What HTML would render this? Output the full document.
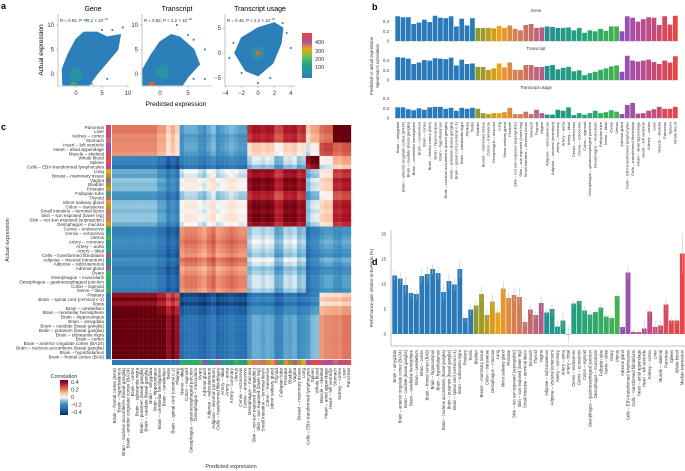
<!DOCTYPE html>
<html><head><meta charset="utf-8">
<style>
html,body{margin:0;padding:0;background:#fff;}
svg{display:block;font-family:"Liberation Sans",Arial,sans-serif;}
</style></head>
<body>
<svg id="fig" width="685" height="471" viewBox="0 0 685 471" xmlns="http://www.w3.org/2000/svg">
<text x="1" y="9" font-size="9" font-weight="bold">a</text>
<text x="372" y="10" font-size="9" font-weight="bold">b</text>
<text x="1" y="130" font-size="9" font-weight="bold">c</text>
<text x="372" y="265" font-size="9" font-weight="bold">d</text>
<g id="pa"></g>
<g id="pb"></g>
<g id="pc"></g>
<g id="pd"></g>
</svg>
<script>
// ---------- data ----------
const tissues = ["Brain – amygdala","Brain – anterior cingulate cortex (BA24)","Brain – caudate (basal ganglia)","Brain – cerebellar hemisphere","Brain – cerebellum","Brain – cortex","Brain – frontal cortex (BA9)","Brain – hippocampus","Brain – hypothalamus","Brain – nucleus accumbens (basal ganglia)","Brain – putamen (basal ganglia)","Brain – spinal cord (cervical c-1)","Brain – substantia nigra","Pituitary","Testis","Bladder","Breast – mammary tissue","Colon – transverse","Oesophagus – mucosa","Lung","Minor salivary gland","Prostate","Skin – not sun exposed (suprapubic)","Skin – sun exposed (lower leg)","Small intestine – terminal ileum","Stomach","Thyroid","Vagina","Adipose – subcutaneous","Adipose – visceral (omentum)","Artery – coronary","Artery – aorta","Artery – tibial","Cervix – endocervix","Cervix – ectocervix","Colon – sigmoid","Oesophagus – gastroesophageal junction","Oesophagus – muscularis","Fallopian tube","Nerve – tibial","Ovary","Uterus","Adrenal gland","Cells – EBV-transformed lymphocytes","Cells – transformed fibroblasts","Heart – atrial appendage","Heart – left ventricle","Kidney – cortex","Liver","Muscle – skeletal","Pancreas","Spleen","Whole blood"];
const tissueColors = ["#2a7ab9","#2a7ab9","#2a7ab9","#2a7ab9","#2a7ab9","#2a7ab9","#2a7ab9","#2a7ab9","#2a7ab9","#2a7ab9","#2a7ab9","#2a7ab9","#2a7ab9","#2a7ab9","#2a7ab9","#8e9a2a","#a09b28","#b89c22","#d39c1a","#eaa21a","#e8952a","#dc8a40","#d58050","#cf7a58","#c97462","#c46c6c","#bd6478","#b65c88","#23918f","#23948c","#229789","#229a86","#239c82","#249f7e","#26a27a","#28a575","#2ba770","#2fa96a","#33ab63","#38ad5c","#3eaf55","#45b04e","#8d4fbf","#9b4fae","#a54fa4","#ae4e9a","#b74d8f","#bf4c84","#c74b78","#d04a6c","#d84960","#df4853","#e64646"];
const geneCorr = [.51,.49,.49,.35,.38,.44,.39,.52,.48,.47,.51,.30,.46,.32,.47,.27,.27,.27,.26,.31,.27,.32,.25,.22,.33,.35,.27,.28,.30,.29,.27,.27,.28,.22,.27,.17,.22,.20,.25,.21,.30,.30,.20,.51,.48,.40,.45,.49,.48,.33,.51,.34,.52];
const transcriptCorr = [.47,.46,.44,.33,.36,.41,.40,.45,.44,.43,.46,.30,.42,.33,.34,.27,.27,.21,.24,.34,.26,.36,.21,.21,.31,.31,.27,.27,.29,.31,.22,.25,.27,.18,.20,.10,.14,.17,.21,.24,.28,.30,.17,.50,.40,.38,.40,.42,.37,.33,.40,.36,.49];
const usageCorr = [.22,.22,.18,.16,.20,.17,.22,.23,.23,.19,.21,.15,.21,.19,.21,.19,.10,.08,.10,.10,.12,.21,.08,.08,.13,.08,.17,.10,.07,.07,.17,.15,.22,.06,.10,.07,.10,.15,.10,.12,.16,.13,.08,.27,.31,.09,.10,.15,.18,.23,.19,.19,.23];
const bTicks = [0,0.2,0.4];
const gainLabels = tissues.concat(["Median expression"]);
const gainValues = [11.7,11.1,9.8,8.2,8.0,11.6,12.0,13.0,12.2,8.4,10.6,9.9,13.0,3.2,4.9,5.7,8.0,3.8,6.5,4.3,9.1,7.2,7.8,7.4,2.4,4.9,3.8,6.2,4.3,5.0,1.5,2.7,-0.1,6.1,6.6,4.7,3.9,4.4,5.3,3.5,3.2,7.6,1.4,12.3,0.4,0.4,1.1,4.5,1.4,1.7,5.9,2.7,2.7,16.1];
const gainErr = [1.0,1.2,1.8,1.0,1.0,1.4,1.7,1.1,1.3,1.6,1.6,1.3,1.8,0.8,1.1,1.0,1.5,1.2,1.4,0.9,1.4,1.1,1.5,1.8,0.9,0.9,0.8,1.5,0.7,1.2,1.2,1.7,1.6,0.8,0.7,0.7,0.8,0.6,0.7,0.6,0.6,0.6,0.6,1.4,0.5,0.5,1.5,1.2,1.3,1.0,1.3,0.7,0.7,4.0];
const dTicks = [0,5,10,15,20];
const heatRows = ["Pancreas","Liver","Kidney – cortex","Stomach","Heart – left ventricle","Heart – atrial appendage","Muscle – skeletal","Whole blood","Spleen","Cells – EBV-transformed lymphocytes",
 "Lung","Breast – mammary tissue","Vagina","Bladder","Prostate","Fallopian tube","Thyroid","Minor salivary gland","Colon – transverse","Small intestine – terminal ileum","Skin – sun exposed (lower leg)","Skin – not sun exposed (suprapubic)","Oesophagus – mucosa",
 "Cervix – endocervix","Cervix – ectocervix","Uterus","Artery – coronary","Artery – aorta","Artery – tibial","Cells – transformed fibroblasts","Adipose – visceral (omentum)","Adipose – subcutaneous","Adrenal gland","Ovary","Oesophagus – muscularis","Oesophagus – gastroesophageal junction","Colon – sigmoid","Nerve – tibial",
 "Pituitary","Brain – spinal cord (cervical c-1)","Testis","Brain – cerebellum","Brain – cerebellar hemisphere","Brain – hippocampus","Brain – amygdala","Brain – caudate (basal ganglia)","Brain – putamen (basal ganglia)","Brain – substantia nigra","Brain – cortex","Brain – anterior cingulate cortex (BA24)","Brain – nucleus accumbens (basal ganglia)","Brain – hypothalamus","Brain – frontal cortex (BA9)"];
const heatGroups = [
 3,3,3,3, 4,4,4, 5,5,5,
 2,2,2,2,2, 2,2,2,2,2, 2,2,2,
 1,1,1,1,1, 1,1,1,1,1, 1,1,1,1,1,
 0,0,0,0,0, 0,0,0,0,0, 0,0,0,0,0];
const heatOffsets = [
 .05,.05,.02,.03, 0,0,-.02, .03,.02,-.03,
 0,-.02,.04,.02,.03, -.04,-.05,.03,.04,.02, .04,.04,0,
 -.02,-.02,0,.02,0, -.02,-.04,.03,0,-.05, -.03,0,0,0,-.03,
 -.1,-.05,-.1,-.02,-.02, .03,.03,.03,.03,.03, .03,.03,.03,.03,.03];
const blockCorr = [
 [0.46,-0.28,-0.18,0.14,0.16,-0.14],
 [-0.22,0.22,-0.06,-0.18,-0.12,-0.22],
 [-0.14,0.0,0.36,0.28,0.06,-0.08],
 [0.14,-0.16,0.28,0.40,0.20,0.08],
 [0.16,-0.12,0.06,0.22,0.30,0.0],
 [-0.26,-0.22,-0.08,0.08,0.0,0.40]];
const corrTicks = [0.4,0.2,0,-0.2,-0.4];
const geneHull = [[-2.5,-2.2],[-2.6,1],[-1.5,4],[0,7],[1.5,8.5],[4,8.5],[6,7.5],[8.5,8],[8,5],[6,2.5],[4,0],[2.5,-2.2]];
const transcriptHull = [[-3,-2.2],[-3,1],[-1.5,4],[0,6.5],[2,8],[3.5,7.5],[6,5],[7,2],[5,-0.5],[4,-2.2]];
const usageHull = [[-2.8,0],[-2,3],[0,5],[2,6],[3,5],[2.8,2],[1.8,-2],[0,-4.5],[-1.5,-3.5]];
const geneOut = [[2,11],[5,9],[9,9.5],[7,9],[-2,-2],[3,-2],[6,-1]];
const transcriptOut = [[8,5],[7,2],[6,7],[5,8],[3,10],[8,-1],[6,-1]];
const usageOut = [[-3,2],[-3.5,-1],[3.5,4],[3,6],[4,1],[-2,-4],[1.5,-5],[0,-6]];

// ---------- helpers ----------
const NS="http://www.w3.org/2000/svg";
function mk(parent,tag,attrs,txt){const e=document.createElementNS(NS,tag);for(const k in attrs)e.setAttribute(k,attrs[k]);if(txt!==undefined)e.textContent=txt;parent.appendChild(e);return e;}
function rdbu(v){const st=[[-0.45,[5,48,97]],[-0.3,[33,102,172]],[-0.15,[67,147,195]],[-0.07,[146,197,222]],[0,[247,247,247]],[0.07,[253,219,199]],[0.15,[244,165,130]],[0.25,[214,96,77]],[0.35,[178,24,43]],[0.45,[103,0,13]]];
 v=Math.max(-0.45,Math.min(0.45,v));for(let i=0;i<st.length-1;i++){const a=st[i],b=st[i+1];if(v<=b[0]){const t=(v-a[0])/(b[0]-a[0]);const c=a[1].map((x,j)=>Math.round(x+(b[1][j]-x)*t));return `rgb(${c})`;}}return "rgb(103,0,13)";}
const colorOf={};tissues.forEach((t,i)=>colorOf[t]=tissueColors[i]);

// ---------- panel a ----------
const pa=document.getElementById('pa');
const panels=[
 {title:"Gene",x0:58,x1:128,sx:v=>76+v*5.2,sy:v=>74-v*4.9,xt:[0,5,10],yt:[0,5,10],hull:geneHull,out:geneOut,core:[[-0.5,-2,"#3bb06a"],[0,0,"#2fa88f"]],stat:"R = 0.82, P < 2.2 × 10"},
 {title:"Transcript",x0:142,x1:212,sx:v=>160+v*5.6,sy:v=>74-v*4.9,xt:[0,5],yt:[0,5,10],hull:transcriptHull,out:transcriptOut,core:[[-1.5,-2,"#e8603a"],[0.5,0.5,"#2fa88f"]],stat:"R = 0.82, P < 2.2 × 10"},
 {title:"Transcript usage",x0:225,x1:295,sx:v=>258+v*8.2,sy:v=>53-v*5,xt:[-4,-2,0,2,4],yt:[-5,0,5],hull:usageHull,out:usageOut,core:[[0,0,"#e8603a"],[0,0,"#58b84a"]],stat:"R = 0.46, P < 2.2 × 10"}];
panels.forEach((p,k)=>{
 const g=mk(pa,'g',{});
 
 
 mk(g,'text',{x:(p.x0+p.x1)/2,y:11,'font-size':7,'text-anchor':'middle'},p.title);
 const pts=p.hull.map(d=>p.sx(d[0])+','+p.sy(d[1])).join(' ');
 const hull=mk(g,'polygon',{points:pts,fill:'#2c7fb8',stroke:'#2c7fb8','stroke-width':1.5,'stroke-linejoin':'round'});
 
 p.out.forEach(d=>{const c=mk(g,'rect',{x:p.sx(d[0])-0.9,y:p.sy(d[1])-0.9,width:1.8,height:1.8,fill:'#2c7fb8'});});
 const c0=p.core[1];mk(g,'ellipse',{cx:p.sx(c0[0]),cy:p.sy(c0[1]),rx:7,ry:7,fill:'#2aa198',opacity:0.55});
 const c1=p.core[0];mk(g,'ellipse',{cx:p.sx(c1[0]),cy:p.sy(c1[1]),rx:3,ry:2,fill:c1[2]});
 mk(g,'line',{x1:p.x0,y1:14,x2:p.x0,y2:86,stroke:'#999','stroke-width':0.6});
 mk(g,'line',{x1:p.x0,y1:86,x2:p.x1,y2:86,stroke:'#999','stroke-width':0.6});
 p.xt.forEach(t=>{mk(g,'line',{x1:p.sx(t),y1:86,x2:p.sx(t),y2:88,stroke:'#999','stroke-width':0.5});mk(g,'text',{x:p.sx(t),y:95,'font-size':6,'text-anchor':'middle',fill:'#333'},String(t).replace('-','−'));});
 p.yt.forEach(t=>{mk(g,'line',{x1:p.x0-2,y1:p.sy(t),x2:p.x0,y2:p.sy(t),stroke:'#999','stroke-width':0.5});mk(g,'text',{x:p.x0-4,y:p.sy(t)+2,'font-size':6,'text-anchor':'end',fill:'#333'},String(t).replace('-','−'));});
 const st=mk(g,'text',{x:p.x0+2,y:22,'font-size':4.4,fill:'#333'},p.stat);
 mk(st,'tspan',{dy:-2,'font-size':3},'−16');
});
mk(pa,'text',{x:0,y:0,'font-size':6.5,'text-anchor':'middle',transform:'translate(43,50) rotate(-90)'},'Actual expression');
mk(pa,'text',{x:176,y:106,'font-size':6.5,'text-anchor':'middle'},'Predicted expression');
const cbDefs=mk(pa,'defs',{});const lg=mk(cbDefs,'linearGradient',{id:'vir',x1:0,y1:1,x2:0,y2:0});
[["0","#2c7fb8"],["0.3","#21a68a"],["0.5","#7cc240"],["0.65","#e8a21a"],["0.8","#b0509c"],["1","#e8463c"]].forEach(s=>mk(lg,'stop',{offset:s[0],'stop-color':s[1]}));
const cb=mk(pa,'rect',{x:302,y:33,width:10,height:45,fill:'url(#vir)'});
[[400,42],[300,51],[200,59],[100,67]].forEach(d=>mk(pa,'text',{x:315,y:d[1]+2,'font-size':5.5,fill:'#333'},String(d[0])));

// ---------- panel b ----------
const pb=document.getElementById('pb');
const bx0=395,bw=283/53;
const subs=[{t:"Gene",y0:41,vals:geneCorr,ty:12},{t:"Transcript",y0:80,vals:transcriptCorr,ty:50},{t:"Transcript usage",y0:118,vals:usageCorr,ty:89}];
const bScale=v=>v*48.5;
subs.forEach(s=>{
 mk(pb,'text',{x:bx0+141,y:s.ty,'font-size':4.3,'text-anchor':'middle',fill:'#333'},s.t);
 bTicks.forEach(t=>mk(pb,'text',{x:bx0-6,y:s.y0-bScale(t)+1.5,'font-size':4.3,'text-anchor':'end',fill:'#333'},String(t)));
 s.vals.forEach((v,i)=>{const r=mk(pb,'rect',{x:bx0+i*bw+0.3,y:s.y0-bScale(v),width:bw-0.6,height:bScale(v),fill:tissueColors[i]});
  
  });
 mk(pb,'line',{x1:bx0,y1:s.y0+0.3,x2:bx0+283,y2:s.y0+0.3,stroke:'#bbb','stroke-width':0.4});
});
tissues.forEach((t,i)=>mk(pb,'text',{x:0,y:0,'font-size':4,'text-anchor':'end',fill:'#333',transform:`translate(${bx0+i*bw+bw/2+1.3},122) rotate(-90)`},t));
mk(pb,'text',{x:0,y:0,'font-size':4.3,'text-anchor':'middle',fill:'#333',transform:'translate(373,66) rotate(-90)'},'Predicted vs actual expression');
mk(pb,'text',{x:0,y:0,'font-size':4.3,'text-anchor':'middle',fill:'#333',transform:'translate(379,66) rotate(-90)'},"Spearman's correlation");

// ---------- panel c ----------
const pc=document.getElementById('pc');
const N=heatRows.length;
const hx0=112,hy0=125,cw=239/N,ch=234/N;
for(let r=0;r<N;r++){for(let c=0;c<N;c++){
 const colIdx=N-1-c; // columns are rows reversed
 const v=blockCorr[heatGroups[r]][heatGroups[colIdx]]+heatOffsets[r]+heatOffsets[colIdx];
 const cell=mk(pc,'rect',{x:hx0+c*cw,y:hy0+r*ch,width:cw+0.15,height:ch+0.15,fill:rdbu(v)});
 
 
}}
heatRows.forEach((t,r)=>{
 mk(pc,'rect',{x:106,y:hy0+r*ch,width:5,height:ch+0.15,fill:colorOf[t]});
 mk(pc,'text',{x:104,y:hy0+r*ch+ch-0.6,'font-size':4.6,'text-anchor':'end',fill:'#333'},t);
 const c=N-1-r;
 mk(pc,'rect',{x:hx0+c*cw,y:360,width:cw+0.15,height:5,fill:colorOf[t]});
 mk(pc,'text',{x:0,y:0,'font-size':4.6,'text-anchor':'end',fill:'#333',transform:`translate(${hx0+c*cw+cw/2+1.5},368) rotate(-90)`},t);
});
mk(pc,'text',{x:0,y:0,'font-size':5.5,'text-anchor':'middle',fill:'#333',transform:'translate(9,240) rotate(-90)'},'Actual expression');
mk(pc,'text',{x:231,y:468,'font-size':5.5,'text-anchor':'middle',fill:'#333'},'Predicted expression');
const cd=mk(pc,'defs',{});const lg2=mk(cd,'linearGradient',{id:'rdbu',x1:0,y1:1,x2:0,y2:0});
for(let i=0;i<=10;i++){mk(lg2,'stop',{offset:i/10,'stop-color':rdbu(-0.45+0.9*i/10)});}
mk(pc,'text',{x:64,y:378,'font-size':5.5,'text-anchor':'middle',fill:'#333'},'Correlation');
const ccb=mk(pc,'rect',{x:60,y:380,width:8,height:35,fill:'url(#rdbu)'});
corrTicks.forEach(t=>mk(pc,'text',{x:71,y:397-t*38+2,'font-size':5.5,fill:'#333'},String(t).replace('-','−')));

// ---------- panel d ----------
const pd=document.getElementById('pd');
const dx0=392,dbw=293/gainValues.length,dy=v=>334-v*5;
gainValues.forEach((v,i)=>{
 const col=i<tissueColors.length?tissueColors[i]:"#e64646";
 const y=Math.min(dy(v),dy(0)),h=Math.abs(dy(v)-dy(0));
 const r=mk(pd,'rect',{x:dx0+i*dbw+0.3,y:y,width:dbw-0.6,height:h,fill:col});
 
 
 const cx=dx0+i*dbw+dbw/2;
 mk(pd,'line',{x1:cx,y1:dy(v+gainErr[i]),x2:cx,y2:dy(v-gainErr[i]),stroke:'#bbb','stroke-width':0.5});
 mk(pd,'text',{x:0,y:0,'font-size':4.2,'text-anchor':'end',fill:'#333',transform:`translate(${cx+1.4},350) rotate(-90)`},gainLabels[i]);
});
mk(pd,'line',{x1:391,y1:230,x2:391,y2:346,stroke:'#888','stroke-width':0.5});
mk(pd,'line',{x1:391,y1:346,x2:685,y2:346,stroke:'#888','stroke-width':0.5});
dTicks.forEach(t=>mk(pd,'text',{x:386,y:dy(t)+1.5,'font-size':4.3,'text-anchor':'end',fill:'#333'},String(t)));
mk(pd,'text',{x:0,y:0,'font-size':4.3,'text-anchor':'middle',fill:'#333',transform:'translate(373,288) rotate(-90)'},'Performance gain relative to ExPecto (%)');
</script>
</body></html>
